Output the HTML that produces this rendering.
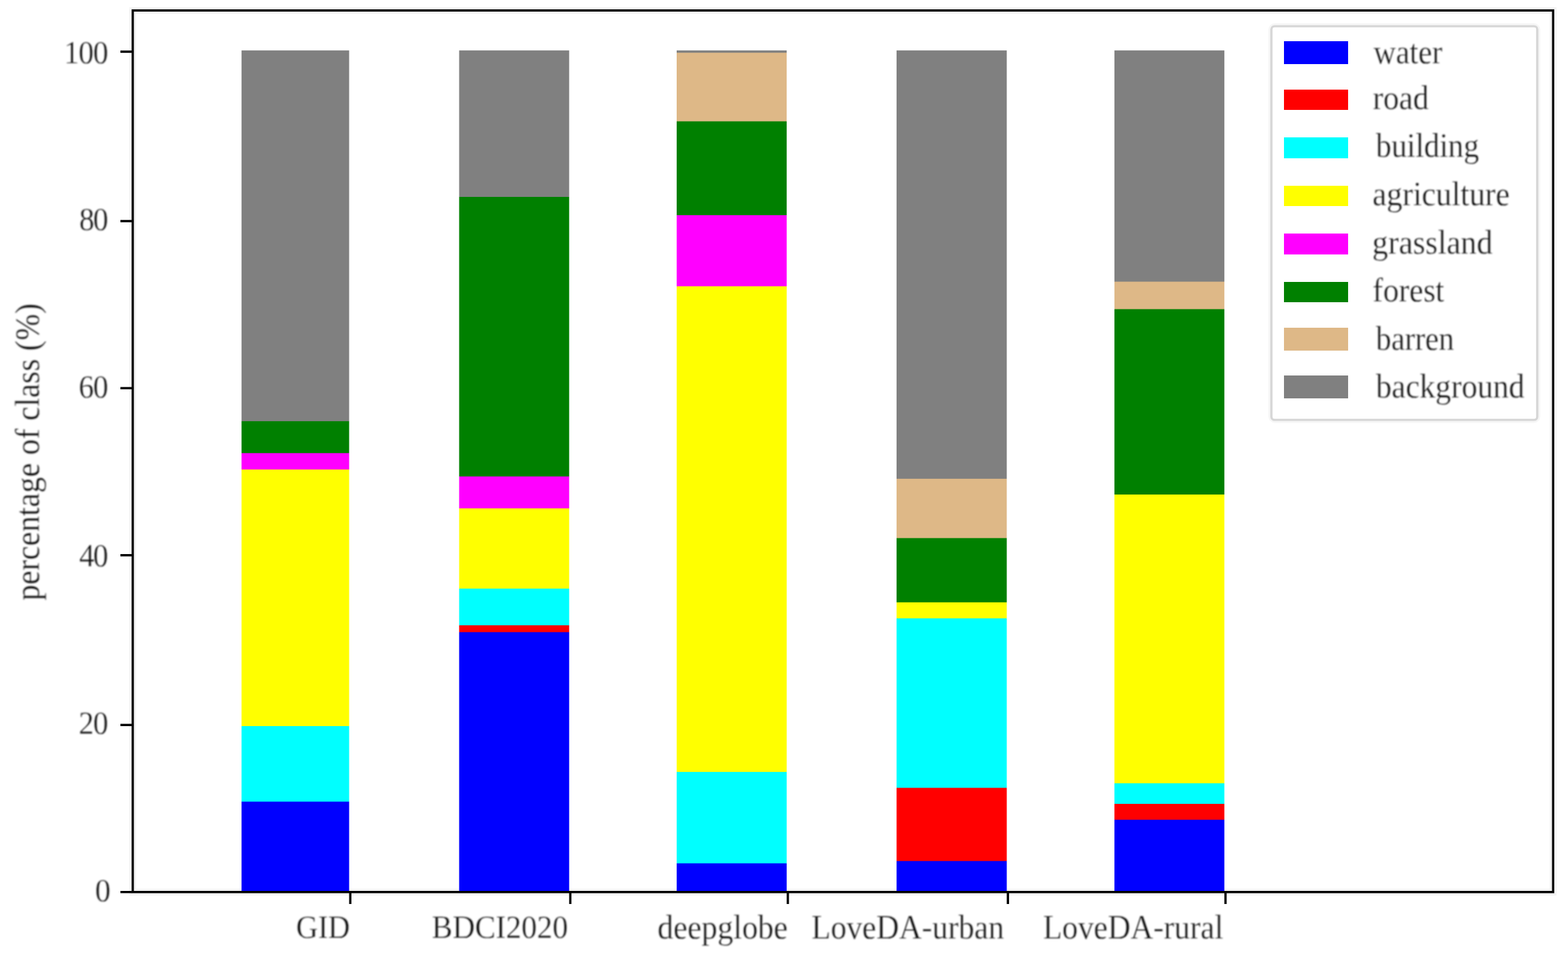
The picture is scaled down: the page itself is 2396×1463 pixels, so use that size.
<!DOCTYPE html>
<html lang="en"><head><meta charset="utf-8"><title>percentage of class</title>
<style>html,body{margin:0;padding:0;background:#fff;}body{width:2396px;height:1463px;}svg{display:block;}text{font-family:"Liberation Serif","DejaVu Serif",serif;font-size:50px;fill:#000;stroke:#fff;stroke-width:0.3px;}</style>
</head><body>
<svg width="2396" height="1463" viewBox="0 0 2396 1463">
<defs><filter id="b" x="-2%" y="-2%" width="104%" height="104%"><feGaussianBlur stdDeviation="0.8 0.8"/></filter><filter id="bv" x="-20%" y="-5%" width="140%" height="110%"><feGaussianBlur stdDeviation="0.8 0.8"/></filter></defs>
<rect x="0" y="0" width="2396" height="1463" fill="#ffffff"/>
<g fill="#f3f3f3">
<rect x="197.8" y="11" width="2180.5" height="10"/>
<rect x="197.8" y="1358.7" width="2180.5" height="10"/>
<rect x="197.8" y="11" width="10.1" height="1357.7"/>
<rect x="2368.3" y="11" width="10" height="1357.7"/>
</g>
<defs>
<mask id="c0" maskUnits="userSpaceOnUse" x="365.1" y="73.1" width="172.4" height="1293.9"><rect x="369.1" y="77.1" width="164.4" height="1286.9" fill="#fff"/></mask>
<mask id="c1" maskUnits="userSpaceOnUse" x="697.6" y="73.1" width="176.1" height="1293.9"><rect x="701.6" y="77.1" width="168.1" height="1286.9" fill="#fff"/></mask>
<mask id="c2" maskUnits="userSpaceOnUse" x="1030" y="73.1" width="176.1" height="1293.9"><rect x="1034" y="77.1" width="168.1" height="1286.9" fill="#fff"/></mask>
<mask id="c3" maskUnits="userSpaceOnUse" x="1366" y="73.1" width="176.4" height="1293.9"><rect x="1370" y="77.1" width="168.4" height="1286.9" fill="#fff"/></mask>
<mask id="c4" maskUnits="userSpaceOnUse" x="1698.9" y="73.1" width="176" height="1293.9"><rect x="1702.9" y="77.1" width="168" height="1286.9" fill="#fff"/></mask>
</defs>
<g mask="url(#c0)">
<rect x="366.1" y="74.1" width="170.4" height="1291.9" fill="#808080"/>
<rect x="366.1" y="643.9" width="170.4" height="722.1" fill="#008000"/>
<rect x="366.1" y="692.7" width="170.4" height="673.3" fill="#ff00ff"/>
<rect x="366.1" y="717.7" width="170.4" height="648.3" fill="#ffff00"/>
<rect x="366.1" y="1110" width="170.4" height="256" fill="#00ffff"/>
<rect x="366.1" y="1225.5" width="170.4" height="140.5" fill="#0000ff"/>
</g>
<g mask="url(#c1)">
<rect x="698.6" y="74.1" width="174.1" height="1291.9" fill="#808080"/>
<rect x="698.6" y="301" width="174.1" height="1065" fill="#008000"/>
<rect x="698.6" y="728.4" width="174.1" height="637.6" fill="#ff00ff"/>
<rect x="698.6" y="777.2" width="174.1" height="588.8" fill="#ffff00"/>
<rect x="698.6" y="899.8" width="174.1" height="466.2" fill="#00ffff"/>
<rect x="698.6" y="955.9" width="174.1" height="410.1" fill="#ff0000"/>
<rect x="698.6" y="966.4" width="174.1" height="399.6" fill="#0000ff"/>
</g>
<g mask="url(#c2)">
<rect x="1031" y="74.1" width="174.1" height="1291.9" fill="#808080"/>
<rect x="1031" y="80.6" width="174.1" height="1285.4" fill="#deb887"/>
<rect x="1031" y="185.5" width="174.1" height="1180.5" fill="#008000"/>
<rect x="1031" y="329" width="174.1" height="1037" fill="#ff00ff"/>
<rect x="1031" y="437.6" width="174.1" height="928.4" fill="#ffff00"/>
<rect x="1031" y="1180.1" width="174.1" height="185.9" fill="#00ffff"/>
<rect x="1031" y="1319.8" width="174.1" height="46.2" fill="#0000ff"/>
</g>
<g mask="url(#c3)">
<rect x="1367" y="74.1" width="174.4" height="1291.9" fill="#808080"/>
<rect x="1367" y="731.9" width="174.4" height="634.1" fill="#deb887"/>
<rect x="1367" y="822.6" width="174.4" height="543.4" fill="#008000"/>
<rect x="1367" y="920.8" width="174.4" height="445.2" fill="#ffff00"/>
<rect x="1367" y="945.3" width="174.4" height="420.7" fill="#00ffff"/>
<rect x="1367" y="1204.4" width="174.4" height="161.6" fill="#ff0000"/>
<rect x="1367" y="1316.3" width="174.4" height="49.7" fill="#0000ff"/>
</g>
<g mask="url(#c4)">
<rect x="1699.9" y="74.1" width="174" height="1291.9" fill="#808080"/>
<rect x="1699.9" y="430.6" width="174" height="935.4" fill="#deb887"/>
<rect x="1699.9" y="472.6" width="174" height="893.4" fill="#008000"/>
<rect x="1699.9" y="756" width="174" height="610" fill="#ffff00"/>
<rect x="1699.9" y="1197.4" width="174" height="168.6" fill="#00ffff"/>
<rect x="1699.9" y="1228.9" width="174" height="137.1" fill="#ff0000"/>
<rect x="1699.9" y="1253.2" width="174" height="112.8" fill="#0000ff"/>
</g>
<g fill="#000">
<rect x="202.85" y="16" width="2170.45" height="1347.7" fill="none" stroke="#000" stroke-width="3.45" stroke-linejoin="miter"/>
<rect x="184" y="77.25" width="17.6" height="3.5"/>
<rect x="184" y="336.25" width="17.6" height="3.5"/>
<rect x="184" y="591.65" width="17.6" height="3.5"/>
<rect x="184" y="847.05" width="17.6" height="3.5"/>
<rect x="184" y="1106.55" width="17.6" height="3.5"/>
<rect x="184" y="1362" width="17.6" height="3.4"/>
<rect x="533.5" y="1364.9" width="3.5" height="17.1"/>
<rect x="869.7" y="1364.9" width="3.5" height="17.1"/>
<rect x="1202.1" y="1364.9" width="3.5" height="17.1"/>
<rect x="1538.4" y="1364.9" width="3.5" height="17.1"/>
<rect x="1870.9" y="1364.9" width="3.5" height="17.1"/>
</g>
<g filter="url(#b)">
<text transform="translate(97.78 96.50) scale(0.9300 1.0000)" letter-spacing="-1.148">100</text>
<text transform="translate(120.91 352.35) scale(0.9300 1.0000)" letter-spacing="-2.161">80</text>
<text transform="translate(120.14 607.85) scale(0.9300 1.0000)" letter-spacing="-1.339">60</text>
<text transform="translate(121.03 866.45) scale(0.9300 1.0000)" letter-spacing="-2.301">40</text>
<text transform="translate(120.14 1122.45) scale(0.9300 1.0000)" letter-spacing="-1.339">20</text>
<text transform="translate(145.27 1378.20) scale(0.9545 1.0000)">0</text>
<text transform="translate(452.45 1434.10) scale(0.9266 1.0000)">GID</text>
<text transform="translate(659.75 1434.10) scale(0.9490 1.0000)">BDCI2020</text>
<text transform="translate(1004.85 1434.60) scale(0.9685 1.0550)">deepglobe</text>
<text transform="translate(1240.04 1434.60) scale(0.9633 1.0550)">LoveDA-urban</text>
<text transform="translate(1593.64 1434.60) scale(0.9641 1.0550)">LoveDA-rural</text>
</g>
<rect x="1942.8" y="40.1" width="406.2" height="601.8" rx="5" ry="5" fill="#ffffff" stroke="#f6f6f6" stroke-width="9"/>
<rect x="1942.8" y="40.1" width="406.2" height="601.8" rx="5" ry="5" fill="#ffffff" stroke="#d6d6d6" stroke-width="3.4"/>
<g shape-rendering="crispEdges">
<rect x="1962.1" y="63" width="98.1" height="35" fill="#0000ff"/>
<rect x="1962.1" y="136.6" width="98.1" height="31.3" fill="#ff0000"/>
<rect x="1962.1" y="210.2" width="98.1" height="31.5" fill="#00ffff"/>
<rect x="1962.1" y="283.7" width="98.1" height="31.3" fill="#ffff00"/>
<rect x="1962.1" y="357" width="98.1" height="31.8" fill="#ff00ff"/>
<rect x="1962.1" y="430.8" width="98.1" height="31.1" fill="#008000"/>
<rect x="1962.1" y="500.9" width="98.1" height="34.8" fill="#deb887"/>
<rect x="1962.1" y="574.2" width="98.1" height="34.8" fill="#808080"/>
</g>
<g filter="url(#b)">
<text transform="translate(2098.80 96.90) scale(0.9487 1.0550)">water</text>
<text transform="translate(2097.84 167.00) scale(0.9606 1.0550)">road</text>
<text transform="translate(2102.50 240.40) scale(0.9460 1.0550)">building</text>
<text transform="translate(2097.35 313.90) scale(0.9683 1.0550)">agriculture</text>
<text transform="translate(2096.85 387.50) scale(0.9740 1.0550)">grassland</text>
<text transform="translate(2097.36 460.90) scale(0.9631 1.0550)">forest</text>
<text transform="translate(2102.50 534.80) scale(0.9356 1.0550)">barren</text>
<text transform="translate(2102.50 608.00) scale(0.9625 1.0550)">background</text>
<text transform="translate(60.00 918.09) rotate(-90) scale(0.9716 1.0550)">percentage of class (%)</text>
</g>
</svg>
</body></html>
